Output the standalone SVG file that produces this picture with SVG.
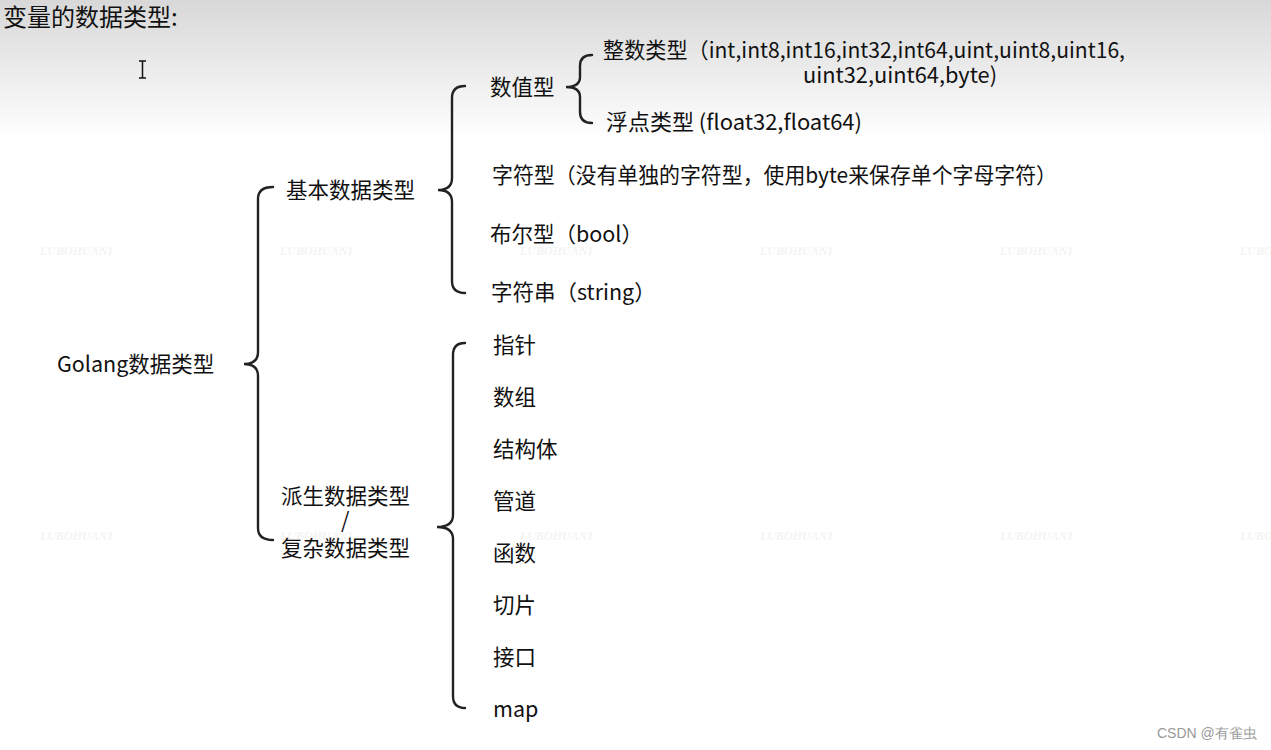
<svg xmlns="http://www.w3.org/2000/svg" width="1271" height="750" viewBox="0 0 1271 750">
<defs>
<linearGradient id="bg" x1="0" y1="0" x2="0" y2="140" gradientUnits="userSpaceOnUse">
<stop offset="0" stop-color="#d8d8d8"/>
<stop offset="1" stop-color="#ffffff"/>
</linearGradient>
<style>
.t{font-family:"Noto Sans CJK SC","Microsoft YaHei",sans-serif;font-size:21.5px;fill:#111}
.b{fill:none;stroke:#222;stroke-width:2.4;stroke-linecap:round}
.wm{font-family:"Liberation Serif",serif;font-style:italic;font-weight:bold;font-size:12px;fill:#f4f4f4}
</style>
</defs>
<rect width="1271" height="750" fill="#ffffff"/>
<rect width="1271" height="140" fill="url(#bg)"/>
<g id="watermarks">
<text class="wm" x="40" y="255">LUBOHUAN1</text>
<text class="wm" x="280" y="255">LUBOHUAN1</text>
<text class="wm" x="520" y="255">LUBOHUAN1</text>
<text class="wm" x="760" y="255">LUBOHUAN1</text>
<text class="wm" x="1000" y="255">LUBOHUAN1</text>
<text class="wm" x="1240" y="255">LUBOHUAN1</text>
<text class="wm" x="40" y="540">LUBOHUAN1</text>
<text class="wm" x="280" y="540">LUBOHUAN1</text>
<text class="wm" x="520" y="540">LUBOHUAN1</text>
<text class="wm" x="760" y="540">LUBOHUAN1</text>
<text class="wm" x="1000" y="540">LUBOHUAN1</text>
<text class="wm" x="1240" y="540">LUBOHUAN1</text>
</g>
<text x="3" y="26" style="font-family:'Noto Sans CJK SC','Microsoft YaHei',sans-serif;font-size:24px;fill:#111">变量的数据类型:</text>
<path d="M139,61 H146 M142.5,61 V78 M139,78 H146" stroke="#111" stroke-width="1.5" fill="none"/>
<g id="connectors">
<path class="b" d="M273,187 Q258,187 258,199 L258,352 Q258,364 244,364 Q258,364 258,376 L258,528 Q258,540 273,540"/>
<path class="b" d="M465,86 Q452,86 452,98 L452,178 Q452,190 438,190 Q452,190 452,202 L452,281 Q452,293 465,293"/>
<path class="b" d="M465,343 Q453,343 453,355 L453,515 Q453,527 437,527 Q453,527 453,539 L453,696 Q453,708 465,708"/>
<path class="b" d="M592,55 Q580,55 580,66 L580,77 Q580,87 566,87 Q580,87 580,97 L580,112 Q580,123 592,123"/>
</g>
<g id="root"><text class="t" x="57" y="372">Golang数据类型</text></g>
<g id="basic"><text class="t" x="286" y="198">基本数据类型</text></g>
<g id="derived"><text class="t" x="281" y="504">派生数据类型</text><text class="t" x="341" y="528">/</text><text class="t" x="281" y="556">复杂数据类型</text></g>
<g id="numeric"><text class="t" x="490" y="95">数值型</text></g>
<g id="int"><text class="t" x="603" y="58" textLength="522" lengthAdjust="spacingAndGlyphs">整数类型（int,int8,int16,int32,int64,uint,uint8,uint16,</text><text class="t" x="803" y="83" textLength="194" lengthAdjust="spacingAndGlyphs">uint32,uint64,byte)</text></g>
<g id="float"><text class="t" x="606" y="130" textLength="256" lengthAdjust="spacingAndGlyphs">浮点类型 (float32,float64)</text></g>
<g id="char"><text class="t" x="492" y="183" textLength="565" lengthAdjust="spacingAndGlyphs">字符型（没有单独的字符型，使用byte来保存单个字母字符）</text></g>
<g id="bool"><text class="t" x="490" y="242">布尔型（bool）</text></g>
<g id="string"><text class="t" x="491" y="300">字符串（string）</text></g>
<g id="pointer"><text class="t" x="493" y="353">指针</text></g>
<g id="array"><text class="t" x="493" y="405">数组</text></g>
<g id="struct"><text class="t" x="493" y="457">结构体</text></g>
<g id="channel"><text class="t" x="493" y="509">管道</text></g>
<g id="func"><text class="t" x="493" y="561">函数</text></g>
<g id="slice"><text class="t" x="493" y="613">切片</text></g>
<g id="interface"><text class="t" x="493" y="665">接口</text></g>
<g id="map"><text class="t" x="493" y="717">map</text></g>
<text x="1157" y="738" style="font-family:'Liberation Sans',sans-serif;font-size:14px;fill:#999">CSDN @有雀虫</text>
</svg>
